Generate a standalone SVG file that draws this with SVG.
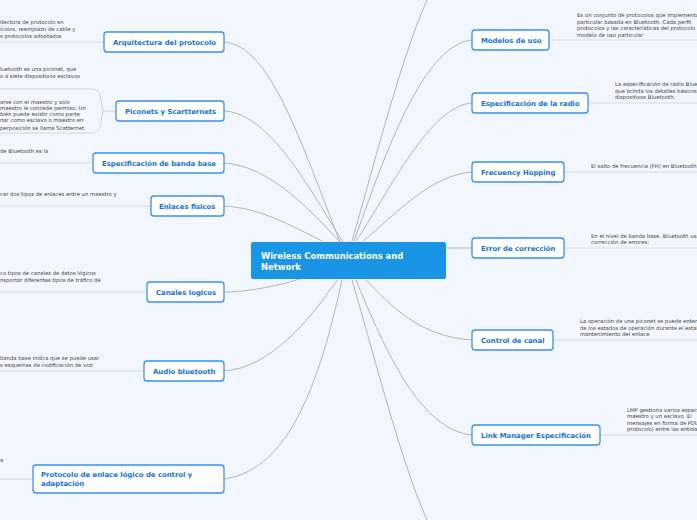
<svg xmlns="http://www.w3.org/2000/svg" width="697" height="520" viewBox="0 0 697 520">
<style>
.n rect{fill:#fff;stroke:#3d90ea;stroke-width:1.3}
.n text{font-family:Verdana,"DejaVu Sans",sans-serif;font-size:6.9px;font-weight:bold;fill:#1470d8}
.s{font-family:Verdana,"DejaVu Sans",sans-serif;font-size:5.3px;fill:#444}
.c path{fill:none;stroke:#b5b5b5;stroke-width:1}
.u{stroke:#d6dae2;stroke-width:1.2;fill:none}
</style>
<rect width="697" height="520" fill="#f2f6fe"/>
<g class="c">
<path d="M224,42 C270,45 300,140 340,242"/>
<path d="M224,111 C270,113 310,190 343,242"/>
<path d="M224,163 C270,166 310,210 340,242"/>
<path d="M224,206 C260,208 290,225 322,241"/>
<path d="M224,292 C250,292 280,285 300,279"/>
<path d="M224,371 C270,368 310,320 337,280"/>
<path d="M224,479 C290,470 320,380 342,280"/>
<path d="M427,0 C400,60 370,180 352,241"/>
<path d="M472,40 C420,45 380,170 354,241"/>
<path d="M472,103 C430,106 390,190 356,241"/>
<path d="M472,172 C430,175 395,215 363,241"/>
<path d="M446,248 L472,248"/>
<path d="M472,340 C420,337 390,305 366,280"/>
<path d="M472,435 C420,430 385,350 356,280"/>
<path d="M427,520 C400,460 370,340 352,280"/>
</g>
<g id="subs">
<path class="u" d="M0,42 H104"/>
<text class="s"><tspan x="0" y="24">itectura de protocolo en</tspan><tspan x="0" y="31">icolos, reemplazo de cable y</tspan><tspan x="0" y="38">s protocolos adoptados</tspan></text>
<text class="s"><tspan x="0" y="71">luetooth es una piconet, que</tspan><tspan x="0" y="78">o a siete dispositivos esclavos</tspan></text>
<path d="M0,89 H92 Q98,89 100,95 L103,111 L100,127 Q98,133 92,133 H0" fill="none" stroke="#c9ccd4" stroke-width="0.8"/>
<path class="u" d="M103,111 H116"/>
<text class="s"><tspan x="0" y="104">arse con el maestro y solo</tspan><tspan x="0" y="110">maestro le concede permiso. Un</tspan><tspan x="0" y="116">bién puede existir como parte</tspan><tspan x="0" y="122">nar como esclavo o maestro en</tspan><tspan x="0" y="130">perposición se llama Scatternet</tspan></text>
<path class="u" d="M0,163 H93"/>
<text class="s" x="0" y="153">de Bluetooth es la</text>
<path class="u" d="M0,206 H151"/>
<text class="s" x="0" y="196">cer dos tipos de enlaces entre un maestro y</text>
<path class="u" d="M0,292 H147"/>
<text class="s"><tspan x="0" y="275">co tipos de canales de datos lógicos</tspan><tspan x="0" y="282">nsportar diferentes tipos de tráfico de</tspan></text>
<path class="u" d="M0,371 H144"/>
<text class="s"><tspan x="0" y="360">banda base indica que se puede usar</tspan><tspan x="0" y="367">s esquemas de codificación de voz:</tspan></text>
<path class="u" d="M0,479 H32"/>
<text class="s" x="0" y="462">a</text>
<path class="u" d="M549,40 H697"/>
<text class="s"><tspan x="577" y="17">Es un conjunto de protocolos que implementan</tspan><tspan x="577" y="24">particular basada en Bluetooth. Cada perfil</tspan><tspan x="577" y="30">protocolos y las características del protocolo</tspan><tspan x="577" y="37">modelo de uso particular</tspan></text>
<path class="u" d="M588,103 H697"/>
<text class="s"><tspan x="615" y="86">La especificación de radio Bluetooth</tspan><tspan x="615" y="93">que brinda los detalles básicos</tspan><tspan x="615" y="99">dispositivos Bluetooth.</tspan></text>
<path class="u" d="M564,172 H697"/>
<text class="s" x="591" y="168">El salto de frecuencia (FH) en Bluetooth</text>
<path class="u" d="M564,248 H697"/>
<text class="s"><tspan x="591" y="238">En el nivel de banda base, Bluetooth usa</tspan><tspan x="591" y="244">corrección de errores:</tspan></text>
<path class="u" d="M553,340 H697"/>
<text class="s"><tspan x="580" y="323">La operación de una piconet se puede entender</tspan><tspan x="580" y="330">de los estados de operación durante el establecimiento</tspan><tspan x="580" y="336">mantenimiento del enlace</tspan></text>
<path class="u" d="M600,435 H697"/>
<text class="s"><tspan x="627" y="412">LMP gestiona varios aspectos</tspan><tspan x="627" y="418">maestro y un esclavo. El</tspan><tspan x="627" y="425">mensajes en forma de PDU</tspan><tspan x="627" y="431">protocolo) entre las entidades</tspan></text>
</g>
<g id="center"><rect x="251" y="242" width="195" height="37" rx="2" fill="#1a95e6"/>
<text font-family="Verdana,'DejaVu Sans',sans-serif" font-size="8.4" font-weight="bold" fill="#fff"><tspan x="261" y="259">Wireless Communications and</tspan><tspan x="261" y="270">Network</tspan></text></g>
<g id="n1" class="n"><rect x="104" y="32" width="120" height="20" rx="3"/><text x="113" y="44.5">Arquitectura del protocolo</text></g>
<g id="n2" class="n"><rect x="116" y="101" width="108" height="20" rx="3"/><text x="125" y="113.5">Piconets y Scartternets</text></g>
<g id="n3" class="n"><rect x="93" y="153" width="131" height="20" rx="3"/><text x="102" y="165.5">Especificación de banda base</text></g>
<g id="n4" class="n"><rect x="151" y="196" width="73" height="20" rx="3"/><text x="159" y="208.5">Enlaces fisicos</text></g>
<g id="n5" class="n"><rect x="147" y="282" width="77" height="20" rx="3"/><text x="156" y="294.5">Canales logicos</text></g>
<g id="n6" class="n"><rect x="144" y="361" width="80" height="20" rx="3"/><text x="153" y="373.5">Audio bluetooth</text></g>
<g id="n7" class="n"><rect x="33" y="465" width="191" height="28" rx="3"/><text><tspan x="41" y="477">Protocolo de enlace lógico de control y</tspan><tspan x="41" y="486">adaptación</tspan></text></g>
<g id="n8" class="n"><rect x="472" y="30" width="77" height="20" rx="3"/><text x="481" y="42.5">Modelos de uso</text></g>
<g id="n9" class="n"><rect x="472" y="93" width="116" height="20" rx="3"/><text x="481" y="105.5">Especificación de la radio</text></g>
<g id="n10" class="n"><rect x="472" y="162" width="92" height="20" rx="3"/><text x="481" y="174.5">Frecuency Hopping</text></g>
<g id="n11" class="n"><rect x="472" y="238" width="92" height="20" rx="3"/><text x="481" y="250.5">Error de corrección</text></g>
<g id="n12" class="n"><rect x="472" y="330" width="81" height="20" rx="3"/><text x="481" y="342.5">Control de canal</text></g>
<g id="n13" class="n"><rect x="472" y="425" width="128" height="20" rx="3"/><text x="481" y="437.5">Link Manager Especificación</text></g>
</svg>
